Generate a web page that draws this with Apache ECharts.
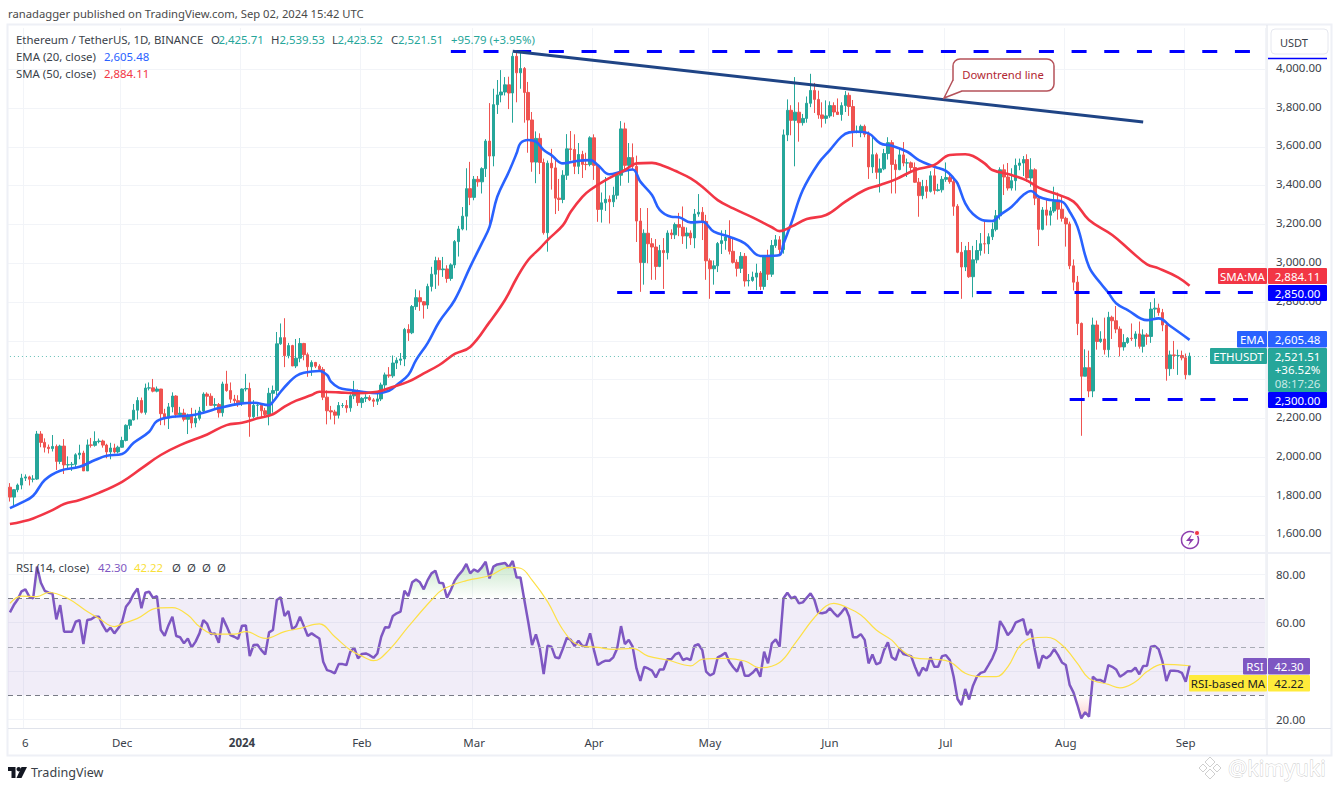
<!DOCTYPE html>
<html><head><meta charset="utf-8"><title>ETHUSDT</title>
<style>html,body{margin:0;padding:0;background:#fff}#c{width:1339px;height:788px}</style>
<script src="https://cdn.jsdelivr.net/npm/echarts@6/dist/echarts.min.js"></script>
</head><body><div id="c"></div>
<script>
// ---- candles, Nov 2 2023 to Sep 2 2024, one line per month
const opens=[
1846,1795,1833,1857,1893,1899,1887,1888,2120,2077,2052,2045,2056,1979,2058,1961,1962,1964,2013,2022,1930,2064,2062,2081,2084,2063,2028,2048,2028,
2052,2087,2165,2193,2243,2293,2232,2357,2358,2341,2352,2225,2202,2260,2316,2220,2228,2196,2218,2177,2201,2239,2326,2315,2268,2272,2230,2378,2344,2300,2292,
2281,2352,2355,2209,2268,2268,2240,2221,2330,2344,2585,2617,2524,2576,2471,2511,2587,2529,2467,2489,2470,2453,2310,2240,2234,2217,2267,2267,2255,2317,2344,
2282,2304,2309,2296,2289,2301,2373,2425,2420,2486,2500,2507,2659,2642,2777,2823,2802,2785,2881,2944,3014,2967,2971,2922,2992,3112,3177,3243,3385,
3340,3433,3420,3488,3630,3553,3818,3868,3883,3920,3878,4067,3982,4004,3881,3739,3522,3644,3520,3158,3516,3492,3336,3329,3454,3590,3587,3500,3561,3510,3509,
3647,3505,3278,3312,3330,3317,3351,3454,3693,3505,3545,3500,3218,3004,3155,3101,3084,2984,3066,3055,3156,3147,3200,3186,3141,3156,3131,3254,3263,3216,
3013,2972,2987,3102,3117,3136,3062,3005,2974,3036,2909,2912,2929,2950,2881,3037,2944,3092,3121,3071,3662,3789,3737,3779,3725,3747,3825,3891,3845,3765,3747,
3760,3813,3780,3767,3813,3866,3808,3678,3681,3706,3665,3497,3560,3469,3487,3566,3622,3510,3483,3559,3517,3518,3494,3418,3349,3396,3371,3451,3375,3379,
3433,3442,3421,3294,3057,2981,3066,2931,3018,3066,3101,3100,3137,3175,3245,3482,3445,3388,3426,3505,3517,3535,3440,3482,3336,3175,3275,3248,3270,3318,3279,
3232,3203,2987,2903,2690,2418,2462,2342,2682,2597,2610,2555,2722,2704,2661,2569,2592,2614,2612,2636,2572,2631,2623,2764,2769,2746,2682,2457,2528,2525,2525,
2513,2425.71];
const highs=[
1867,1835,1865,1915,1912,1905,1908,2136,2135,2098,2066,2115,2066,2065,2094,2005,1976,2021,2065,2034,2092,2100,2134,2097,2091,2070,2075,2070,2060,
2106,2170,2195,2275,2310,2308,2380,2386,2404,2365,2353,2250,2280,2335,2320,2260,2250,2225,2255,2245,2260,2335,2335,2330,2305,2280,2390,2446,2386,2322,2320,
2355,2430,2385,2295,2280,2270,2255,2358,2370,2646,2690,2717,2590,2580,2610,2615,2590,2540,2500,2492,2480,2465,2345,2265,2245,2285,2280,2295,2325,2394,2350,
2310,2325,2320,2305,2335,2385,2437,2465,2525,2515,2538,2667,2686,2785,2866,2860,2805,2895,2982,3034,3030,3033,2990,3000,3120,3193,3290,3490,3523,
3450,3450,3495,3640,3826,3900,3945,3996,3960,3962,4086,4093,4084,4012,3935,3780,3680,3670,3540,3530,3590,3545,3435,3480,3666,3682,3665,3620,3580,3570,3655,
3665,3510,3365,3445,3350,3395,3465,3733,3725,3620,3618,3555,3285,3175,3285,3130,3125,3095,3130,3170,3175,3210,3260,3293,3185,3170,3280,3357,3290,3250,
3025,3015,3110,3170,3172,3222,3130,3020,3058,3053,2945,2957,2998,2960,3040,3070,3120,3146,3140,3690,3845,3815,3960,3830,3770,3860,3977,3930,3890,3830,3840,
3835,3830,3850,3830,3888,3880,3842,3710,3715,3715,3680,3655,3570,3540,3590,3650,3635,3535,3590,3625,3540,3525,3520,3440,3430,3430,3475,3490,3410,3450,
3520,3460,3445,3305,3110,3090,3110,3090,3120,3156,3223,3155,3210,3275,3495,3510,3517,3490,3540,3540,3553,3562,3542,3490,3340,3290,3326,3290,3395,3365,3350,
3240,3215,3020,2935,2695,2557,2550,2720,2705,2650,2720,2750,2730,2780,2675,2635,2620,2690,2650,2700,2660,2640,2800,2820,2792,2765,2700,2550,2600,2555,2550,
2535,2539.53];
const lows=[
1772,1745,1820,1835,1878,1855,1871,1884,2052,2025,2020,2030,1935,1965,1914,1935,1930,1945,1990,1930,1930,2050,2055,2072,2050,1995,1990,2020,2020,
2050,2082,2145,2190,2195,2226,2220,2345,2335,2335,2166,2165,2146,2232,2205,2215,2185,2120,2150,2155,2190,2230,2265,2265,2255,2205,2210,2338,2280,2270,2260,
2265,2340,2106,2200,2210,2205,2205,2165,2230,2320,2580,2465,2510,2470,2460,2490,2500,2415,2420,2460,2450,2295,2170,2195,2170,2200,2255,2230,2235,2300,2265,
2255,2285,2290,2260,2270,2290,2350,2410,2410,2455,2475,2470,2600,2635,2760,2755,2715,2765,2855,2868,2885,2930,2900,2910,2975,3035,3170,3170,3300,
3325,3395,3360,3445,3200,3500,3770,3830,3865,3795,3725,3830,3900,3725,3570,3472,3413,3460,3148,3060,3380,3254,3270,3310,3430,3530,3460,3460,3440,3480,3500,
3430,3214,3210,3270,3205,3290,3330,3400,3480,3415,3480,3110,2853,2890,3000,2915,2915,2980,2868,3020,3125,3125,3140,3100,3075,3095,3078,3240,3120,2915,
2817,2890,2955,3048,3070,3046,2999,2932,2950,2880,2881,2905,2862,2862,2864,2914,2930,3080,3046,3050,3630,3660,3500,3627,3710,3725,3805,3775,3745,3700,3720,
3750,3755,3765,3735,3780,3760,3600,3670,3650,3650,3435,3465,3435,3365,3480,3535,3360,3360,3480,3500,3445,3475,3415,3240,3330,3335,3365,3355,3370,3365,
3420,3410,3245,3052,2817,2960,2925,2825,3000,3040,3050,3048,3120,3165,3225,3352,3375,3375,3375,3480,3450,3420,3395,3300,3089,3170,3195,3195,3260,3225,3215,
3086,2970,2860,2630,2111,2418,2310,2310,2555,2590,2530,2515,2610,2640,2520,2550,2585,2600,2570,2560,2540,2580,2590,2720,2730,2650,2395,2420,2455,2425,2500,
2402,2423.52];
const closes=[
1795,1833,1857,1893,1899,1887,1888,2120,2077,2052,2045,2056,1979,2058,1961,1962,1964,2013,2022,1930,2064,2062,2081,2084,2063,2028,2048,2028,2052,
2087,2165,2193,2243,2293,2232,2357,2358,2341,2352,2225,2202,2260,2316,2220,2228,2196,2218,2177,2201,2239,2326,2315,2268,2272,2230,2378,2344,2300,2292,2281,
2352,2355,2209,2268,2268,2240,2221,2330,2344,2585,2617,2524,2576,2471,2511,2587,2529,2467,2489,2470,2453,2310,2240,2234,2217,2267,2267,2255,2317,2344,2282,
2304,2309,2296,2289,2301,2373,2425,2420,2486,2500,2507,2659,2642,2777,2823,2802,2785,2881,2944,3014,2967,2971,2922,2992,3112,3177,3243,3385,3340,
3433,3420,3488,3630,3553,3818,3868,3883,3920,3878,4067,3982,4004,3881,3739,3522,3644,3520,3158,3516,3492,3336,3329,3454,3590,3587,3500,3561,3510,3509,3647,
3505,3278,3312,3330,3317,3351,3454,3693,3505,3545,3500,3218,3004,3155,3101,3084,2984,3066,3055,3156,3147,3200,3186,3141,3156,3131,3254,3263,3216,3013,
2972,2987,3102,3117,3136,3062,3005,2974,3036,2909,2912,2929,2950,2881,3037,2944,3092,3121,3071,3662,3789,3737,3779,3725,3747,3825,3891,3845,3765,3747,3760,
3813,3780,3767,3813,3866,3808,3678,3681,3706,3665,3497,3560,3469,3487,3566,3622,3510,3483,3559,3517,3518,3494,3418,3349,3396,3371,3451,3375,3379,3433,
3442,3421,3294,3057,2981,3066,2931,3018,3066,3101,3100,3137,3175,3245,3482,3445,3388,3426,3505,3517,3535,3440,3482,3336,3175,3275,3248,3270,3318,3279,3232,
3203,2987,2903,2690,2418,2462,2342,2682,2597,2610,2555,2722,2704,2661,2569,2592,2614,2612,2636,2572,2631,2623,2764,2769,2746,2682,2457,2528,2525,2525,2513,
2425.71,2521.51];
// ---- moving averages: [day index, value]
const ema20=[[0,1738],[3,1766],[6,1802],[9,1883],[13,1931],[18,1951],[22,1986],[25,2008],[29,2017],[32,2075],[36,2132],[38,2187],[42,2209],[46,2214],[50,2230],[54,2254],[60,2278],[63,2281],[67,2269],[68,2286],[70,2338],[72,2383],[74,2419],[76,2436],[80,2445],[82,2424],[83,2390],[85,2359],[88,2347],[91,2338],[95,2331],[98,2343],[100,2373],[103,2424],[105,2501],[108,2589],[111,2699],[115,2811],[119,2982],[122,3103],[124,3188],[126,3343],[129,3472],[131,3567],[132,3619],[134,3636],[136,3627],[138,3584],[140,3558],[143,3515],[147,3529],[150,3532],[152,3507],[155,3459],[158,3472],[161,3484],[163,3421],[166,3352],[168,3275],[171,3240],[173,3237],[176,3211],[179,3214],[182,3163],[186,3137],[190,3103],[194,3038],[197,3039],[199,3043],[200,3100],[202,3206],[205,3378],[209,3515],[212,3584],[215,3653],[217,3675],[219,3678],[222,3670],[225,3619],[228,3606],[232,3575],[235,3532],[239,3498],[242,3477],[244,3438],[245,3412],[247,3309],[249,3254],[252,3220],[254,3218],[256,3249],[259,3292],[262,3352],[264,3373],[266,3343],[269,3326],[272,3318],[274,3266],[276,3189],[279,2982],[282,2897],[284,2848],[286,2794],[289,2759],[294,2707],[297,2716],[300,2677],[305,2605.48]];
const sma50=[[0,1656],[3,1668],[6,1685],[11,1728],[14,1759],[18,1780],[23,1817],[29,1874],[34,1943],[39,2012],[44,2063],[51,2118],[56,2166],[60,2178],[64,2201],[68,2222],[71,2261],[74,2292],[78,2321],[80,2338],[85,2335],[89,2330],[95,2338],[98,2356],[103,2390],[107,2433],[111,2476],[115,2533],[119,2569],[124,2697],[128,2811],[131,2923],[134,3017],[137,3077],[139,3120],[143,3197],[145,3266],[148,3343],[150,3378],[154,3429],[159,3481],[162,3515],[166,3518],[169,3502],[172,3477],[176,3438],[179,3395],[183,3326],[187,3283],[192,3237],[197,3186],[199,3166],[202,3189],[206,3228],[211,3249],[216,3318],[221,3378],[225,3404],[229,3433],[234,3481],[239,3507],[243,3558],[247,3562],[249,3553],[252,3515],[254,3481],[259,3455],[263,3426],[266,3390],[270,3361],[275,3318],[279,3223],[285,3146],[290,3060],[294,2995],[297,2974],[302,2928],[305,2884.11]];
// ---- RSI, one value per candle
const rsi14=[64.3,67.3,69.6,73,73.8,70.8,70.1,83.2,76.5,73.2,72.4,72.1,61.4,67.3,56.3,56.3,56.3,60.4,61.1,51.2,61.1,61.4,62.5,62.5,59,56.3,58,55.6,57.7,60.4,66.6,68.7,71.9,74.2,66,72.4,72.8,70.3,71,57,54.6,59,62.5,54.5,54,51.5,53.5,49.8,52.2,55.6,61.1,59.5,55.3,55.6,51.7,62.1,58.6,54.9,54.2,53.3,58.8,58.9,46.2,50.8,50.9,48.7,46.9,56,57,69.4,70.5,62.8,64.8,57.3,58.6,62.5,58.6,54.5,55.6,54.5,53.5,43.9,40.4,39.9,39.1,42.9,42.9,42.5,48,49.7,45.3,47.1,47.3,46.6,45.5,47.3,54.2,58.1,58,62.8,63.9,64.6,73.2,71,76.7,77.9,76.7,73.8,77.6,80.4,81.5,76.5,76.3,70.3,73.5,77.4,79.7,81.5,84.3,80.4,82,81.1,82.9,85.2,78.3,83.2,84.1,84.4,84.7,82.9,85.5,78.7,78.7,69.4,60.4,50.8,55.2,49.4,38.8,50.5,50.1,45.7,45.3,49.4,53.8,52.9,50.4,52.6,50.4,50.5,55.6,48.7,42.5,43.6,44.3,44.3,45.7,49.4,58.6,51.2,52.9,50.1,41.1,36,41.8,41.1,40.2,37.4,40.7,40.7,44.9,44.9,46.9,47.6,44.6,45.3,44.6,50.5,51.1,48.7,39.8,38.2,39.1,45.7,46.5,47.6,43.9,41.6,39.8,43.9,38.1,38.1,39.3,41.1,37.7,48,43.2,51.5,53.1,50.1,70.1,72.4,70.1,70.8,68,68.4,70.3,72.1,69.4,64.1,63.9,64.3,66,64.1,62.5,64.3,66.3,62.5,54,54,55.3,52.9,43.2,46.9,42.8,43.5,48.7,51.9,45.7,44.6,49.4,47.1,46.6,46.2,41.8,38,41.4,40.2,45.7,41.8,41.8,46.2,46.6,44.6,37.7,28.5,26,32.6,28.3,34,37.7,39.3,39.8,42.5,45.3,49.1,60.7,58.1,54.9,56.6,60,60.8,61.5,54.9,57.3,48.7,41.1,46.4,45.3,46.6,49.1,46.6,43.6,42.5,34.3,31.1,26,20.5,23,21.2,37.7,36.3,36.3,35.4,42.5,41.8,40.7,37.7,38.7,40,40,41.4,38.7,42.1,42.2,50.1,50.4,49.1,43.9,35.9,40.2,40.2,40,39.3,35.6,42.3];
const rsiMA=[[0,68],[3,71],[7,70.8],[10,72.5],[15,70],[20,64.6],[23,61.8],[27,58.4],[29,59.5],[33,61.8],[38,66],[42,66.2],[46,63.2],[49,58.4],[53,55.3],[58,55.3],[61,56.3],[66,53.5],[71,56.3],[75,57.7],[80,59.5],[84,54.2],[88,48.7],[91,46.2],[94,44.3],[98,48.7],[103,58.4],[109,69.4],[112,73.8],[118,77.4],[124,79.4],[129,82.9],[132,82.5],[135,77.6],[139,68.7],[143,57],[147,50.8],[152,49.8],[156,49],[161,49.4],[165,46.2],[170,44.6],[176,42.2],[179,44.9],[185,45.3],[190,44.2],[194,41.4],[199,43.6],[203,51.5],[209,63.9],[213,68],[216,66.6],[220,63.2],[224,57],[228,52.8],[230,49.4],[234,45.5],[239,44.9],[243,43.9],[247,39.1],[251,37.7],[255,37.7],[258,41.8],[261,50.1],[264,53.5],[268,54],[272,50.8],[276,43.2],[279,37],[284,34.5],[287,33.1],[291,35.6],[294,39.8],[298,42.8],[305,42.22]];
// ---- axes and levels
const priceTicks=[1600,1800,2000,2200,2400,2600,2800,3000,3200,3400,3600,3800,4000];
const priceLabels=[1600,1800,2000,2200,2600,2800,3000,3200,3400,3600,3800,4000];
const rsiTicks=[20,40,60,80];
const rsiLabels=[20,60,80];
const timeTicks={'2023-11-06':'6','2023-12-01':'Dec','2024-01-01':'2024','2024-02-01':'Feb','2024-03-01':'Mar','2024-04-01':'Apr','2024-05-01':'May','2024-06-01':'Jun','2024-07-01':'Jul','2024-08-01':'Aug','2024-09-01':'Sep'};
const supportLevels=[{price:4093,from:114},{price:2850,from:157},{price:2300,from:274}];
const trendLine=[{day:130,price:4093},{day:293,price:3728}];
const lastPrice=2521.51;
const SLOTS=325;
const categories=[];
for(let i=0;i<SLOTS;i++){const d=new Date(Date.UTC(2023,10,2+i));categories.push(d.toISOString().slice(0,10));}

const UP='#26a69a',DOWN='#ef5350',BLUE='#2962ff',RED='#f23645',PURPLE='#7e57c2',LEVEL='#0000ff',GRID='#f2f4f8',FONT='"Noto Sans",sans-serif';
const fmt=v=>v.toLocaleString('en-US',{minimumFractionDigits:2,maximumFractionDigits:2});
const isTick=(i)=>timeTicks[categories[i]]!==undefined;

const chart=echarts.init(document.getElementById('c'),null,{renderer:'svg',width:1339,height:788});

function T(x,y,text,fill,size){return {type:'text',z:50,style:{x,y,text,fill,font:(size||11)+'px '+FONT,textVerticalAlign:'middle',textAlign:'left'}};}
function R(x,y,w,h,fill,r){return {type:'rect',z:49,shape:{x,y,width:w,height:h,r:r||0},style:{fill}};}
function tag(x,y,w,h,fill,text,color){return [R(x,y,w,h,fill,1),{type:'text',z:50,style:{x:x+w/2,y:y+h/2+.5,text,fill:color,font:'11.5px '+FONT,textAlign:'center',textVerticalAlign:'middle'}}];}
function P(points,fill,stroke,lw,z){return {type:'polygon',z:z||40,shape:{points},style:{fill,stroke:stroke||null,lineWidth:lw||0}};}

const INK='#3a3f4a';
const graphics=[
 // frame
 {type:'rect',z:1,shape:{x:7.5,y:24.5,width:1324,height:731},style:{fill:'none',stroke:'#eef0f6',lineWidth:2}},
 {type:'line',z:48,shape:{x1:1267,y1:25,x2:1267,y2:755},style:{stroke:'#e0e3eb',lineWidth:1}},
 {type:'line',z:48,shape:{x1:8,y1:553,x2:1331,y2:553},style:{stroke:'#eef0f6',lineWidth:2}},
 {type:'line',z:48,shape:{x1:8,y1:728.5,x2:1331,y2:728.5},style:{stroke:'#e0e3eb',lineWidth:1}},
 // header + legends
 T(8,13,'ranadagger published on TradingView.com, Sep 02, 2024 15:42 UTC','#4a4a4a',11.25),
 T(16,39,'Ethereum / TetherUS, 1D, BINANCE',INK,11.4),
 T(211,39,'O',INK,11.4),T(218.5,39,'2,425.71',UP,11.4),
 T(271,39,'H',INK,11.4),T(279.5,39,'2,539.53',UP,11.4),
 T(332,39,'L',INK,11.4),T(337.5,39,'2,423.52',UP,11.4),
 T(391,39,'C',INK,11.4),T(398,39,'2,521.51',UP,11.4),
 T(451,39,'+95.79 (+3.95%)',UP,11.4),
 T(16,56,'EMA (20, close)',INK,11.4),T(104,56,'2,605.48',BLUE,11.4),
 T(16,73,'SMA (50, close)',INK,11.4),T(104,73,'2,884.11',RED,11.4),
 T(16,567,'RSI (14, close)',INK,11.4),T(98,567,'42.30',PURPLE,11.4),T(134,567,'42.22','#f9e03a',11.4),
 T(172,567,'Ø',INK,11.4),T(187,567,'Ø',INK,11.4),T(202,567,'Ø',INK,11.4),T(217,567,'Ø',INK,11.4),
 // USDT button
 {type:'line',z:49,shape:{x1:1268,y1:58.5,x2:1327,y2:58.5},style:{stroke:LEVEL,lineWidth:1.5}},
 {type:'rect',z:50,shape:{x:1271,y:29,width:57,height:25,r:4},style:{fill:'#fff',stroke:'#e6e8ef',lineWidth:1}},
 Object.assign(T(1280,42,'USDT',INK,11),{z:51}),
 // price tags
 ...tag(1218,268,49,16,RED,'SMA:MA','#fff'),...tag(1268,268,59,16,RED,'2,884.11','#fff'),
 ...tag(1268,285,59,16,LEVEL,'2,850.00','#fff'),
 ...tag(1237,331,30,16.5,BLUE,'EMA','#fff'),...tag(1268,331,59,16.5,BLUE,'2,605.48','#fff'),
 ...tag(1210,348,57,16,UP,'ETHUSDT','#fff'),
 R(1268,348,59,44,UP,1),
 {type:'text',z:50,style:{x:1297.5,y:356,text:'2,521.51',fill:'#fff',font:'11.5px '+FONT,textAlign:'center',textVerticalAlign:'middle'}},
 {type:'text',z:50,style:{x:1297.5,y:369.5,text:'+36.52%',fill:'#fff',font:'11.5px '+FONT,textAlign:'center',textVerticalAlign:'middle'}},
 {type:'text',z:50,style:{x:1297.5,y:383,text:'08:17:26',fill:'#c8e9e5',font:'11.5px '+FONT,textAlign:'center',textVerticalAlign:'middle'}},
 ...tag(1268,392,59,16,LEVEL,'2,300.00','#fff'),
 // RSI tags
 ...tag(1243,658,24,16.5,PURPLE,'RSI','#fff'),...tag(1268,658,42,16.5,PURPLE,'42.30','#fff'),
 ...tag(1189,675,78,16.5,'#ffeb3b','RSI-based MA','#222'),...tag(1268,675,42,16.5,'#ffeb3b','42.22','#222'),
 // callout
 {type:'rect',z:40,shape:{x:953,y:59,width:101,height:32,r:7},style:{fill:'#fff',stroke:'#b5525a',lineWidth:1.5}},
 P([[944,98],[953,80],[962,91]],'#fff',null,0,41),
 {type:'polyline',z:41,shape:{points:[[953,80],[944,98],[962,91]]},style:{fill:'none',stroke:'#b5525a',lineWidth:1.5}},
 {type:'text',z:42,style:{x:1003,y:74,text:'Downtrend line',fill:'#b22833',font:'11.3px '+FONT,textAlign:'center',textVerticalAlign:'middle'}},
 // lightning badge
 {type:'circle',z:40,shape:{cx:1190,cy:540,r:8.5},style:{fill:'#fff',stroke:'#8e3fae',lineWidth:1.5}},
 P([[1192,534],[1186,541],[1190,541],[1188,546],[1194,539],[1190,539]],'#8e3fae',null,0,41),
 {type:'circle',z:42,shape:{cx:1197,cy:533,r:2.5},style:{fill:'#f23645',stroke:'#fff',lineWidth:1}},
 // TradingView logo
 P([[8,767],[15.5,767],[15.5,778],[11.5,778],[11.5,771],[8,771]],'#131722'),
 {type:'circle',z:40,shape:{cx:18.7,cy:769.2,r:2.2},style:{fill:'#131722'}},
 P([[21.5,767],[27,767],[21.5,778],[16.5,778]],'#131722'),
 T(31,772,'TradingView','#3b3f48',12.6),
 // watermark
 P([[1210,757],[1215,762],[1210,767],[1205,762]],'none','#cfcfcf',1),
 P([[1203,764],[1207,768],[1203,772],[1199,768]],'none','#cfcfcf',1),
 P([[1217,764],[1221,768],[1217,772],[1213,768]],'none','#cfcfcf',1),
 P([[1210,769],[1215,774],[1210,779],[1205,774]],'none','#cfcfcf',1),
 {type:'text',z:40,style:{x:1228,y:767,text:'@kimyuki',fill:'#fff',stroke:'#c9c9c9',lineWidth:.8,font:'21.5px '+FONT,textAlign:'left',textVerticalAlign:'middle'}}
];

chart.setOption({
 animation:false,
 backgroundColor:'#fff',
 graphic:{elements:graphics},
 grid:[{left:8,top:28,width:1257,height:524,show:false},{left:8,top:554,width:1257,height:174,show:false}],
 xAxis:[
  {type:'category',gridIndex:0,data:categories,axisLine:{show:false},axisTick:{show:false},axisLabel:{show:false},
   splitLine:{show:true,interval:isTick,lineStyle:{color:GRID,width:1}}},
  {type:'category',gridIndex:1,data:categories,axisLine:{show:false},axisTick:{show:false},
   splitLine:{show:true,interval:isTick,lineStyle:{color:GRID,width:1}},
   axisLabel:{show:true,interval:isTick,margin:8,color:INK,fontFamily:FONT,fontSize:11.5,
    formatter:(v)=>{const t=timeTicks[v];return t==='2024'?'{b|2024}':(t||'');},rich:{b:{fontWeight:'bold',fontFamily:FONT,fontSize:11.5,color:INK}}}}
 ],
 yAxis:[
  {type:'value',gridIndex:0,position:'right',min:1512,max:4213,
   axisLine:{show:false},
   axisTick:{show:false,customValues:priceTicks},
   axisLabel:{customValues:priceLabels,margin:11,color:INK,fontFamily:FONT,fontSize:11.5,formatter:fmt,verticalAlign:'bottom',lineHeight:4},
   splitLine:{show:true,lineStyle:{color:GRID,width:1}}},
  {type:'value',gridIndex:1,position:'right',min:16.5,max:88.4,
   axisLine:{show:false},
   axisTick:{show:false,customValues:rsiTicks},
   axisLabel:{customValues:rsiLabels,margin:11,color:INK,fontFamily:FONT,fontSize:11.5,formatter:fmt},
   splitLine:{show:true,lineStyle:{color:GRID,width:1}}}
 ],
 series:[
  {name:'ETHUSDT',type:'candlestick',xAxisIndex:0,yAxisIndex:0,barWidth:3,silent:true,z:3,
   data:closes.map((c,i)=>[opens[i],c,lows[i],highs[i]]),
   itemStyle:{color:UP,color0:DOWN,borderColor:UP,borderColor0:DOWN,borderWidth:1}},
  {name:'EMA 20',type:'line',xAxisIndex:0,yAxisIndex:0,data:ema20,symbol:'none',smooth:.4,z:4,lineStyle:{color:BLUE,width:2.6}},
  {name:'SMA 50',type:'line',xAxisIndex:0,yAxisIndex:0,data:sma50,symbol:'none',smooth:.4,z:4,lineStyle:{color:RED,width:2.6}},
  {name:'levels',type:'line',xAxisIndex:0,yAxisIndex:0,data:[],z:5,silent:true,
   markLine:{silent:true,symbol:'none',animation:false,label:{show:false},z:5,
    data:[
     ...supportLevels.map(l=>[{coord:[l.from,l.price],lineStyle:{color:LEVEL,width:3,type:[15,17.67]}},{coord:[SLOTS-1,l.price]}]),
     [{coord:[trendLine[0].day,trendLine[0].price],lineStyle:{color:'#1f4485',width:3,type:'solid'}},{coord:[trendLine[1].day,trendLine[1].price]}],
     [{coord:[0,lastPrice],lineStyle:{color:UP,width:1,type:[1,3],opacity:.7}},{coord:[310,lastPrice]}]
    ]}},
  {name:'RSI',type:'line',xAxisIndex:1,yAxisIndex:1,data:rsi14,symbol:'none',z:4,lineStyle:{color:PURPLE,width:2.5},
   markArea:{silent:true,itemStyle:{color:'rgba(126,87,194,0.11)'},data:[[{yAxis:70},{yAxis:30}]]},
   markLine:{silent:true,symbol:'none',label:{show:false},
    data:[{yAxis:70,lineStyle:{color:'#787b86',type:[5,4],width:1}},{yAxis:50,lineStyle:{color:'#a9acb5',type:[5,4],width:1}},{yAxis:30,lineStyle:{color:'#787b86',type:[5,4],width:1}}]}},
  {name:'RSI-based MA',type:'line',xAxisIndex:1,yAxisIndex:1,data:rsiMA,symbol:'none',smooth:.4,z:5,lineStyle:{color:'#fde047',width:1.2}},
  {name:'overbought',type:'line',xAxisIndex:1,yAxisIndex:1,data:rsi14.map(v=>Math.max(v,70)),symbol:'none',z:2,lineStyle:{width:0},
   areaStyle:{origin:70,color:new echarts.graphic.LinearGradient(0,0,0,1,[{offset:0,color:'rgba(76,175,80,0.45)'},{offset:1,color:'rgba(76,175,80,0)'}])}},
  {name:'oversold',type:'line',xAxisIndex:1,yAxisIndex:1,data:rsi14.map(v=>Math.min(v,30)),symbol:'none',z:2,lineStyle:{width:0},
   areaStyle:{origin:30,color:new echarts.graphic.LinearGradient(0,1,0,0,[{offset:0,color:'rgba(244,67,54,0.35)'},{offset:1,color:'rgba(244,67,54,0)'}])}}
 ]
});
</script></body></html>
